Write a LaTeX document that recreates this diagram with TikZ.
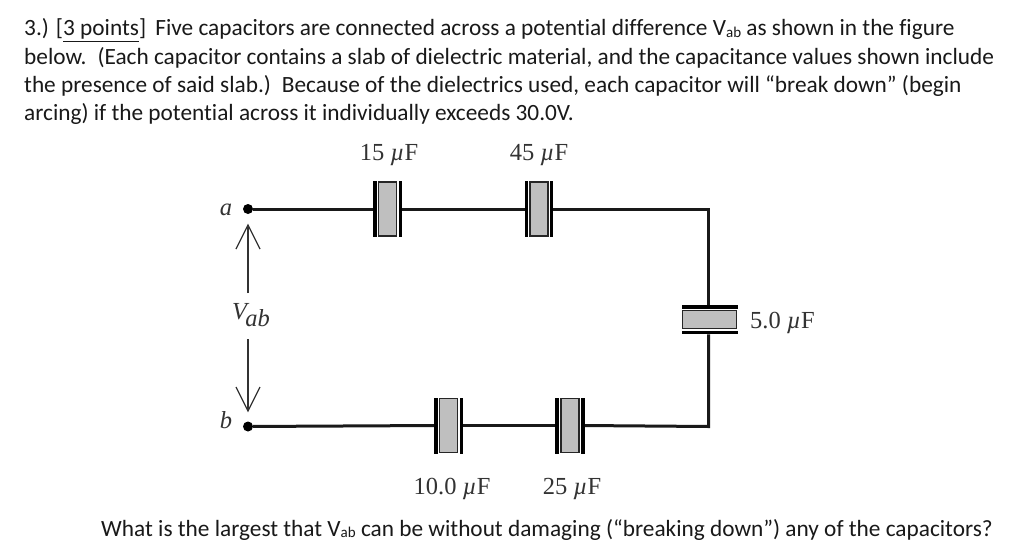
\documentclass[tikz,border=0pt]{standalone}
\usepackage{fontspec}
\setmainfont[RawFeature={-liga;-clig;-calt;-dlig}]{Carlito}
\newfontfamily\figfont{Liberation Serif}
\tikzset{
 x=1pt,y=-1pt,
 line/.style={anchor=base west,inner sep=0pt,font=\fontsize{23.3}{26}\selectfont,text=black!90},
 val/.style={inner sep=0pt,anchor=base,font=\figfont\fontsize{24.5}{26}\selectfont,text=black!80},
 plateV/.style={fill=black,inner sep=0pt,minimum width=3.4pt,minimum height=56pt,draw=none},
 plateH/.style={fill=black,inner sep=0pt,minimum width=56pt,minimum height=3.4pt,draw=none},
 slabV/.style={fill=black!25,draw=black!85,line width=1.1pt,inner sep=0pt,minimum width=18pt,minimum height=54pt},
 slabH/.style={fill=black!25,draw=black!85,line width=1.1pt,inner sep=0pt,minimum width=54pt,minimum height=18pt},
 wire/.style={line width=3pt,black!90,line join=miter},
 term/.style={circle,fill=black,inner sep=0pt,minimum size=10pt},
 volt/.style={line width=1.3pt,black!80,line join=miter},
}
\begin{document}
\begin{tikzpicture}
\useasboundingbox (0,0) rectangle (1024,543);
\fill[white] (0,0) rectangle (1024,543);
\node[line] (t1) at (24,36) {3.) [\underline{3 points}]\, Five capacitors are connected across a potential difference V\raisebox{-0.1ex}{\fontsize{15}{15}\selectfont ab} as shown in the figure};
\node[line] (t2) at (24,64) {below.\, (Each capacitor contains a slab of dielectric material, and the capacitance values shown include};
\node[line] (t3) at (24,92) {the presence of said slab.)\, Because of the dielectrics used, each capacitor will “break down” (begin};
\node[line] (t4) at (24,120) {arcing) if the potential across it individually exceeds 30.0V.};
\node[line] (t5) at (101,536) {What is the largest that V\raisebox{-0.1ex}{\fontsize{15}{15}\selectfont ab} can be without damaging (“breaking down”) any of the capacitors?};

\node[term] (a) at (248,209) {};
\node[term] (b) at (248,426.5) {};
\coordinate (tr) at (708.5,209);
\coordinate (br) at (708.5,426.5);

% capacitors
\node[slabV] (s1) at (387.5,209) {};
\node[plateV] (p1l) at (375,209) {};
\node[plateV] (p1r) at (400.5,209) {};
\node[slabV] (s2) at (539,209) {};
\node[plateV] (p2l) at (526.5,209) {};
\node[plateV] (p2r) at (551.5,209) {};
\node[slabH] (s3) at (709.5,319.5) {};
\node[plateH] (p3t) at (709.5,307) {};
\node[plateH] (p3b) at (709.5,332.5) {};
\node[slabV] (s4) at (448.5,425.5) {};
\node[plateV] (p4l) at (436,425.5) {};
\node[plateV] (p4r) at (461.5,425.5) {};
\node[slabV] (s5) at (570,425.5) {};
\node[plateV] (p5l) at (557,425.5) {};
\node[plateV] (p5r) at (583,425.5) {};

% wires
\draw[wire] (a) -- (p1l);
\draw[wire] (p1r) -- (p2l);
\draw[wire] (p2r) -- (tr) -- (tr |- p3t.north);
\draw[wire] (tr |- p3b.south) -- (br) -- (p5r);
\draw[wire] (p5l) -- (p4r);
\draw[wire] (p4l) -- (b);

% labels
\node[val] (l1) at (389,160) {15 \textit{µ}F};
\node[val] (l2) at (539,160) {45 \textit{µ}F};
\node[val,anchor=base west] (l3) at (750,328) {5.0 \textit{µ}F};
\node[val] (l4) at (452,494) {10.0 \textit{µ}F};
\node[val] (l5) at (572,494) {25 \textit{µ}F};
\node[val] (la) at (226,215) {\textit{a}};
\node[val] (lb) at (226,428) {\textit{b}};
\node[val] (vab) at (251,319) {\textit{V}\hspace{-4pt}\raisebox{-7pt}{\textit{ab}}};

\coordinate (u0) at (248,293);
\coordinate (u1) at (248,225);
\coordinate (d0) at (248,339);
\coordinate (d1) at (248,411);
\draw[volt] (u0) -- (u1);
\draw[volt] ([shift={(-12,24)}]u1) -- (u1) -- ([shift={(12,24)}]u1);
\draw[volt] (d0) -- (d1);
\draw[volt] ([shift={(-12,-24)}]d1) -- (d1) -- ([shift={(12,-24)}]d1);
\end{tikzpicture}
\end{document}
